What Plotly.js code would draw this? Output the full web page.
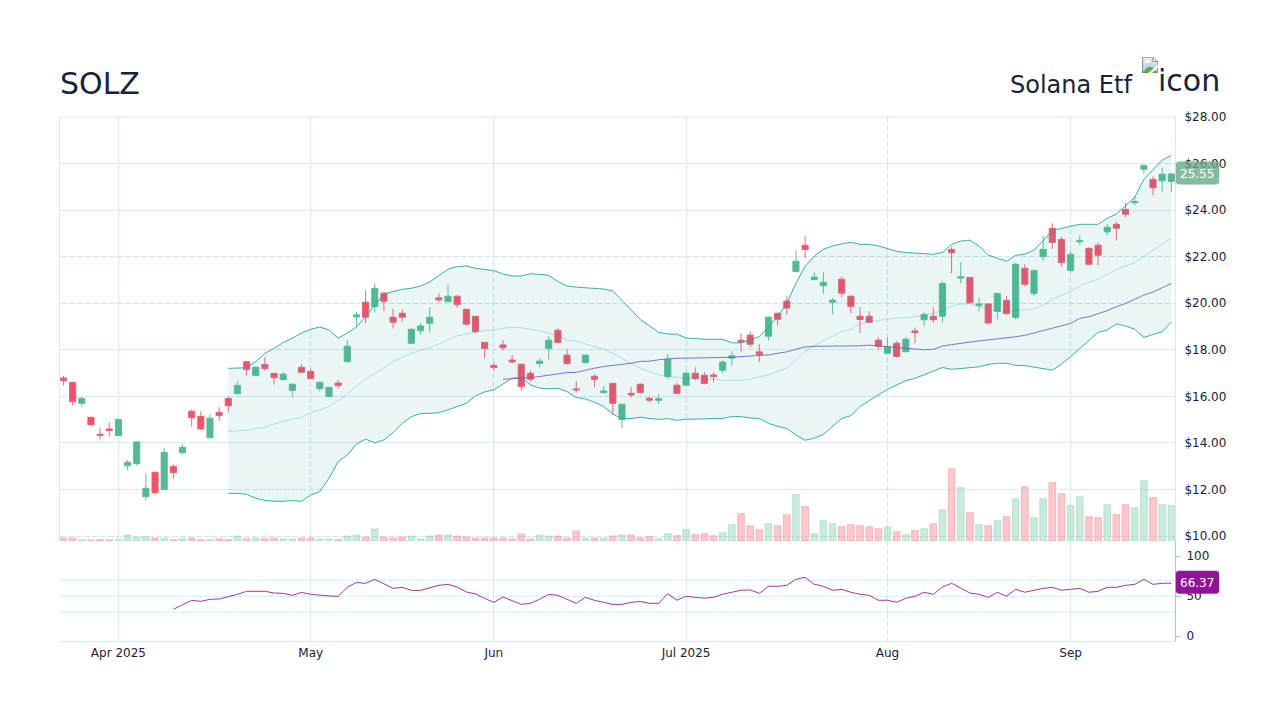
<!DOCTYPE html>
<html>
<head>
<meta charset="utf-8">
<title>SOLZ</title>
<script src="https://cdn.plot.ly/plotly-3.0.1.min.js"></script>
<style>
html,body{margin:0;padding:0;background:#fff;overflow:hidden}
#chart{position:absolute;left:0;top:0;width:1280px;height:720px}
#logo{position:absolute;left:1142px;top:57px;font:30px "DejaVu Sans",sans-serif;color:#1b2238;line-height:48px}
</style>
</head>
<body>
<div id="chart"></div>
<img id="logo" src="solana-etf-icon.png" alt="icon">
<script>
const dates = [
"2025-03-24","2025-03-25","2025-03-26","2025-03-27","2025-03-28","2025-03-31",
"2025-04-01","2025-04-02","2025-04-03","2025-04-04","2025-04-07","2025-04-08","2025-04-09","2025-04-10","2025-04-11",
"2025-04-14","2025-04-15","2025-04-16","2025-04-17","2025-04-21","2025-04-22","2025-04-23","2025-04-24","2025-04-25",
"2025-04-28","2025-04-29","2025-04-30","2025-05-01","2025-05-02",
"2025-05-05","2025-05-06","2025-05-07","2025-05-08","2025-05-09","2025-05-12","2025-05-13","2025-05-14","2025-05-15","2025-05-16",
"2025-05-19","2025-05-20","2025-05-21","2025-05-22","2025-05-23","2025-05-27","2025-05-28","2025-05-29","2025-05-30",
"2025-06-02","2025-06-03","2025-06-04","2025-06-05","2025-06-06","2025-06-09","2025-06-10","2025-06-11","2025-06-12","2025-06-13",
"2025-06-16","2025-06-17","2025-06-18","2025-06-20","2025-06-23","2025-06-24","2025-06-25","2025-06-26","2025-06-27","2025-06-30",
"2025-07-01","2025-07-02","2025-07-03","2025-07-07","2025-07-08","2025-07-09","2025-07-10","2025-07-11",
"2025-07-14","2025-07-15","2025-07-16","2025-07-17","2025-07-18","2025-07-21","2025-07-22","2025-07-23","2025-07-24","2025-07-25",
"2025-07-28","2025-07-29","2025-07-30","2025-07-31","2025-08-01",
"2025-08-04","2025-08-05","2025-08-06","2025-08-07","2025-08-08","2025-08-11","2025-08-12","2025-08-13","2025-08-14","2025-08-15",
"2025-08-18","2025-08-19","2025-08-20","2025-08-21","2025-08-22","2025-08-25","2025-08-26","2025-08-27","2025-08-28","2025-08-29",
"2025-09-02","2025-09-03","2025-09-04","2025-09-05","2025-09-08","2025-09-09","2025-09-10","2025-09-11","2025-09-12","2025-09-15","2025-09-16"];

const opens = [
16.79,16.60,15.70,15.10,14.37,14.60,14.31,13.02,13.11,11.69,
12.74,11.99,12.99,13.58,15.36,15.14,14.22,15.31,15.91,16.11,
17.49,16.89,17.37,16.99,16.72,16.26,17.25,17.07,16.33,15.99,
16.57,17.49,19.41,20.04,19.86,20.43,19.40,19.57,18.28,18.82,
19.14,20.23,20.07,20.30,19.74,19.44,18.32,17.33,18.21,17.56,
17.38,16.99,17.41,18.05,18.84,17.77,16.32,17.45,16.86,16.16,
16.56,15.00,16.13,16.52,15.92,15.83,16.85,16.48,16.48,16.99,
16.91,16.92,17.12,17.64,18.41,18.63,17.91,18.58,19.57,20.09,
21.36,22.49,21.02,20.76,20.04,21.03,20.30,19.44,19.44,18.41,
17.85,18.28,17.92,18.81,19.29,19.44,19.44,22.31,21.08,21.11,
19.90,19.97,19.65,20.12,19.39,21.50,20.42,22.00,23.22,22.74,
21.41,22.64,22.36,22.49,23.07,23.39,24.03,24.32,25.75,25.32,
25.26,25.23];
const closes = [
16.67,15.77,15.91,14.78,14.33,14.53,15.01,13.17,14.04,12.05,
11.86,13.59,12.72,13.81,15.08,14.60,15.06,15.17,15.60,16.47,
17.15,17.25,17.19,16.80,16.95,16.52,17.03,16.76,16.60,16.39,
16.46,18.15,19.50,19.40,20.64,20.08,19.18,19.40,18.88,19.02,
19.40,20.14,20.30,19.94,19.10,18.78,18.05,17.24,18.09,17.48,
16.42,16.73,17.51,18.41,18.31,17.41,16.28,17.77,16.73,16.23,
15.70,15.66,16.06,16.16,15.83,15.90,17.59,16.13,16.99,16.76,
16.55,16.85,17.47,17.74,18.33,18.24,17.80,19.40,19.31,19.79,
21.80,22.31,21.12,20.90,20.13,20.43,19.86,19.30,19.18,18.15,
18.12,17.71,18.45,18.74,19.52,19.29,20.85,22.17,21.14,20.02,
19.97,19.15,20.42,19.55,21.67,20.81,21.41,22.31,22.61,21.74,
22.10,22.68,21.67,22.06,23.26,23.22,23.82,24.36,25.92,24.96,
25.54,25.55];
const highs = [
16.87,16.60,16.00,15.10,14.63,14.88,15.03,13.25,14.08,12.69,
12.74,13.77,13.08,13.94,15.44,15.36,15.21,15.53,16.00,16.64,
17.52,17.27,17.68,16.99,17.03,16.52,17.37,17.19,16.64,16.39,
16.70,18.42,19.64,20.54,20.86,20.50,19.77,19.74,18.92,19.14,
19.83,20.43,20.81,20.36,19.74,19.44,18.32,17.46,18.41,17.77,
17.38,17.12,17.64,18.58,18.92,18.02,16.65,17.81,16.95,16.46,
16.56,15.66,16.40,16.55,15.99,16.10,17.81,16.59,17.07,17.25,
17.04,17.04,17.57,17.95,18.71,18.78,18.24,19.43,19.57,20.30,
22.28,22.88,21.33,21.33,20.22,21.15,20.34,19.83,19.66,18.54,
18.53,18.37,18.54,18.95,19.61,19.82,20.94,22.43,21.76,21.11,
20.25,19.97,20.45,20.31,21.74,21.67,21.41,22.90,23.43,22.86,
22.24,22.91,22.39,22.61,23.39,23.52,24.29,24.60,25.95,25.45,
25.82,25.61];
const lows = [
16.47,15.60,15.56,14.74,14.15,14.27,14.31,12.82,13.02,11.52,
11.78,11.99,12.46,13.52,14.70,14.55,14.22,14.95,15.30,16.11,
16.89,16.87,17.10,16.50,16.67,15.96,17.03,16.76,16.22,15.99,
16.33,17.45,19.00,19.14,19.61,19.65,18.92,19.21,18.24,18.65,
18.74,20.03,20.07,19.81,19.04,18.71,17.64,17.09,17.97,17.41,
16.25,16.63,17.25,17.59,18.27,17.36,16.16,17.41,16.39,16.13,
15.20,14.63,15.95,16.12,15.75,15.67,16.74,16.10,16.45,16.68,
16.51,16.61,16.99,17.34,17.92,18.11,17.47,18.41,19.06,19.49,
21.32,21.93,20.97,20.40,19.53,20.26,19.57,18.71,19.14,18.00,
17.82,17.68,17.88,18.28,19.02,19.16,19.18,21.28,20.85,19.99,
19.65,19.08,19.31,19.52,19.31,20.71,20.31,21.83,22.34,21.57,
21.31,22.49,21.63,21.63,22.90,22.69,23.69,24.20,25.54,24.63,
24.80,24.80];
const volumes = [
3,3,1.3,1,1.3,1.3,1.3,6,4,4.3,
3,3,1.3,2.3,3,1.3,1.3,2.3,1.3,5,
2.3,3,2.3,3,2,2,3,3,2,2,
1.3,5,6,4,12,4,3,4,5,2,
5,6,6,5,4,3,3,3,3,2,
7,2,6,5,5,3,10,3,3,3,
5,6,6,3.3,4.3,2.3,7.3,5.3,11.3,6.3,
7.3,5.3,8.3,16.3,27.3,15.3,11.3,17.3,15.3,26.3,
46.3,34.3,7.3,20.3,17.3,14.3,16.3,15.3,14.3,12.3,
14.3,9.3,6.3,10.3,12.3,17.3,31.3,72.3,53.3,28.3,
16.3,15.3,20.3,24.3,42.3,54.3,23.3,42.3,58.3,47.3,
35.3,44.3,24.3,23.3,36.3,26.3,36.3,33.3,60.3,43.3,
36.3,35.3];
const bandUpper = [
17.2,17.2,17.23,17.49,17.85,18.06,18.31,18.5,18.72,18.88,
18.98,18.85,18.5,18.72,18.98,19.43,19.93,20.4,20.5,20.6,
20.64,20.74,20.91,21.2,21.46,21.57,21.6,21.5,21.46,21.4,
21.26,21.17,21.17,21.27,21.24,21.2,20.93,20.74,20.69,20.66,
20.64,20.61,20.53,20.14,19.71,19.3,19.03,18.75,18.68,18.67,
18.51,18.47,18.45,18.45,18.45,18.3,18.3,18.42,18.57,18.97,
19.43,20.0,20.86,21.58,22.03,22.32,22.46,22.55,22.62,22.53,
22.53,22.46,22.33,22.23,22.18,22.15,22.14,22.1,22.18,22.53,
22.67,22.71,22.46,22.07,21.93,21.8,22.06,22.11,22.28,22.71,
23.12,23.22,23.3,23.39,23.39,23.39,23.65,23.83,24.2,24.55,
25.32,25.72,26.15,26.35];
const bandMiddle = [
14.5,14.52,14.54,14.63,14.67,14.81,14.93,15.01,15.1,15.3,
15.41,15.56,15.81,16.1,16.45,16.73,16.99,17.25,17.49,17.68,
17.85,17.99,18.08,18.25,18.42,18.6,18.68,18.77,18.82,18.85,
18.92,18.97,18.95,18.88,18.82,18.72,18.6,18.42,18.37,18.25,
18.14,18.02,17.85,17.62,17.42,17.21,17.07,16.92,16.85,16.81,
16.78,16.76,16.75,16.74,16.69,16.68,16.68,16.74,16.84,16.92,
17.07,17.21,17.57,17.92,18.17,18.4,18.57,18.78,18.87,19.11,
19.21,19.26,19.33,19.36,19.38,19.43,19.46,19.56,19.68,19.88,
19.97,19.97,19.88,19.71,19.68,19.66,19.68,19.71,19.78,19.92,
20.17,20.35,20.5,20.74,20.88,21.04,21.24,21.45,21.6,21.74,
22.0,22.26,22.53,22.79];
const bandLower = [
11.83,11.83,11.79,11.62,11.53,11.49,11.49,11.52,11.49,11.76,
11.91,12.48,13.19,13.48,13.95,14.16,14.0,14.13,14.44,14.84,
15.13,15.26,15.27,15.3,15.42,15.56,15.7,16.02,16.19,16.28,
16.53,16.78,16.81,16.49,16.35,16.32,16.35,16.2,15.95,15.89,
15.75,15.56,15.24,15.03,15.05,15.1,15.05,15.01,15.04,14.97,
15.01,15.01,15.03,15.05,15.05,15.13,15.13,15.07,15.05,14.84,
14.71,14.62,14.34,14.11,14.2,14.37,14.7,15.05,15.17,15.56,
15.81,16.06,16.3,16.49,16.67,16.77,16.92,17.06,17.24,17.16,
17.2,17.24,17.27,17.37,17.42,17.42,17.33,17.32,17.27,17.19,
17.12,17.39,17.7,18.06,18.42,18.75,18.85,19.11,19.02,18.88,
18.53,18.65,18.78,19.2];
const movingAverage = [
16.73,16.75,16.78,16.81,16.85,16.91,16.96,17.02,17.03,17.13,
17.21,17.28,17.32,17.35,17.42,17.5,17.51,17.57,17.62,17.64,
17.64,17.64,17.64,17.65,17.67,17.68,17.71,17.72,17.74,17.78,
17.85,17.91,18.02,18.12,18.15,18.15,18.15,18.15,18.15,18.17,
18.2,18.17,18.14,18.1,18.08,18.02,18.0,18.02,18.16,18.22,
18.26,18.33,18.38,18.42,18.48,18.49,18.56,18.62,18.73,18.82,
18.95,19.03,19.13,19.35,19.42,19.54,19.68,19.85,19.99,20.17,
20.35,20.48,20.67,20.85];
const rsi = [
33.7,39.1,44.9,43.7,46.2,46.6,49.1,52.4,56.2,56.2,
56.2,54.1,53.7,51.2,54.9,52.4,51.2,50.4,49.9,61.2,
67.2,66.2,71.2,65.8,59.9,61.2,57.4,57.4,60.4,63.7,
64.9,61.6,55.4,52.9,47.4,42.4,49.1,44.9,39.9,41.2,
46.2,52.4,51.2,46.2,41.2,48.7,44.9,42.4,39.9,39.9,
42.4,43.5,41.2,41.2,53.3,45,50,48.7,47.5,48.7,
52.5,55,57.5,57.9,53.7,62.5,62.5,63.7,71.2,73.7,
65,62.5,57.5,58.7,55,52.5,51.2,45,45,42.5,
47.5,50,55,52.4,61.6,66.2,59.9,54.1,52.4,48.7,
55,50,58.7,55,57.5,59.9,61.2,57.5,58.7,59.9,
55,56.2,61.2,61.2,63.7,64.9,71.2,64.9,66.2,66.37];

const priceTicks = [10,12,14,16,18,20,22,24,26,28];
const priceLabels = ["$10.00","$12.00","$14.00","$16.00","$18.00","$20.00","$22.00","$24.00","$26.00","$28.00"];
const rsiTicks = [0,50,100];
const rsiLevels = [30,50,70];
const dateTicks = ["2025-04-01","2025-05-01","2025-05-30","2025-07-01","2025-08-01","2025-08-29"];
const dateLabels = ["Apr 2025","May","Jun","Jul 2025","Aug","Sep"];
const symbol = "SOLZ";
const fundName = "Solana Etf";

const INK = "#1b2238", GRID = "rgba(190,222,230,0.72)", EDGE = "rgba(190,222,232,0.6)";
const UP = "rgba(70,178,137,0.92)", DOWN = "rgba(240,66,92,0.92)";
const DASH = "6px,2px";
const tail = a => dates.slice(dates.length - a.length);
const lastClose = closes[closes.length - 1], lastRsi = rsi[rsi.length - 1];
const TAG = "M4,-10.3 L41,-10.3 Q44,-10.3 44,-7.3 L44,9.3 Q44,12.3 41,12.3 L4,12.3 Q1,12.3 1,9.3 L1,-7.3 Q1,-10.3 4,-10.3 Z";

const traces = [
  {type:"candlestick", x:dates, open:opens, high:highs, low:lows, close:closes, xaxis:"x", yaxis:"y",
   whiskerwidth:0,
   increasing:{line:{color:"rgba(90,188,150,0.95)",width:1}, fillcolor:UP},
   decreasing:{line:{color:"rgba(238,94,116,0.95)",width:1}, fillcolor:DOWN}, hoverinfo:"skip", showlegend:false},
  {type:"bar", x:dates, y:volumes, xaxis:"x", yaxis:"y3", hoverinfo:"skip", showlegend:false,
   marker:{color:closes.map((c,i)=> c>=opens[i] ? "rgba(150,215,185,0.5)" : "rgba(248,160,170,0.58)"),
           line:{width:1, color:closes.map((c,i)=> c>=opens[i] ? "rgba(130,210,175,0.45)" : "rgba(245,145,160,0.55)")}}},
  {type:"scatter", mode:"lines", x:tail(bandUpper), y:bandUpper, xaxis:"x", yaxis:"y", hoverinfo:"skip", showlegend:false,
   line:{color:"rgba(38,166,154,0.9)",width:1}},
  {type:"scatter", mode:"lines", x:tail(bandLower), y:bandLower, xaxis:"x", yaxis:"y", hoverinfo:"skip", showlegend:false,
   line:{color:"rgba(38,166,154,0.9)",width:1},
   fill:"tonexty", fillcolor:"rgba(38,166,154,0.1)"},
  {type:"scatter", mode:"lines", x:tail(bandMiddle), y:bandMiddle, xaxis:"x", yaxis:"y", hoverinfo:"skip", showlegend:false,
   line:{color:"rgba(38,166,154,0.3)",width:1}},
  {type:"scatter", mode:"lines", x:tail(movingAverage), y:movingAverage, xaxis:"x", yaxis:"y", hoverinfo:"skip", showlegend:false,
   line:{color:"rgba(110,90,190,0.85)",width:1}},
  {type:"scatter", mode:"lines", x:tail(rsi), y:rsi, xaxis:"x", yaxis:"y2", hoverinfo:"skip", showlegend:false,
   line:{color:"rgba(142,20,150,0.85)",width:1}}
];

const axisFont = {family:"DejaVu Sans", size:12, color:INK};
const layout = {
  width:1280, height:720, autosize:false, showlegend:false, dragmode:false,
  paper_bgcolor:"#fff", plot_bgcolor:"#fff",
  margin:{l:60, r:105, t:117, b:79, pad:0},
  boxgap:0.33, boxgroupgap:0, bargap:0.27,
  font:{family:"DejaVu Sans", color:INK},
  title:{text:symbol, x:60/1280, xref:"container", xanchor:"left", y:(720-83)/720, yref:"container", yanchor:"middle",
         font:{family:"DejaVu Sans", size:30, color:INK}, automargin:false},
  xaxis:{type:"category", categoryorder:"array", categoryarray:dates, range:[-0.38,121.4], anchor:"y2", domain:[0,1],
         tickmode:"array", tickvals:dateTicks, ticktext:dateLabels, tickfont:axisFont, ticks:"", ticklen:0, ticklabelstandoff:1,
         showgrid:true, gridcolor:GRID, griddash:DASH, gridwidth:1, zeroline:false,
         showline:true, linecolor:EDGE, linewidth:1, rangeslider:{visible:false}, fixedrange:true},
  yaxis:{domain:[100/524,1], side:"right", range:[9.785,28], tickmode:"array", tickvals:priceTicks, ticktext:priceLabels,
         tickfont:axisFont, ticks:"", ticklabelstandoff:6, anchor:"x",
         showgrid:true, gridcolor:GRID, griddash:DASH, gridwidth:1, zeroline:false,
         showline:true, mirror:true, linecolor:EDGE, linewidth:1, fixedrange:true},
  yaxis2:{domain:[0,100/524], side:"right", range:[-5.9,119.1], tickmode:"array", tickvals:rsiTicks,
          tickfont:axisFont, ticks:"outside", ticklen:5, tickwidth:1, tickcolor:"rgba(150,195,208,0.9)", ticklabelstandoff:3, anchor:"x",
          showgrid:false, zeroline:false, showline:true, linecolor:"rgba(150,195,208,0.9)", linewidth:1, fixedrange:true},
  yaxis3:{domain:[100/524,1], overlaying:"y", side:"left", range:[0,424], visible:false, fixedrange:true},
  shapes: rsiLevels.map(v=>({type:"line", xref:"paper", x0:0, x1:1, yref:"y2", y0:v, y1:v, layer:"below",
                             line:{color:"rgba(170,228,245,0.8)", width:1, dash:DASH}})).concat([
    {type:"line", xref:"paper", x0:0, x1:1, yref:"paper", y0:1, y1:1, layer:"below", line:{color:EDGE, width:1}},
    {type:"path", xref:"paper", yref:"y", xsizemode:"pixel", ysizemode:"pixel", xanchor:1, yanchor:lastClose, path:TAG,
     fillcolor:"rgba(105,170,135,0.8)", line:{color:"rgba(105,170,135,0.35)", width:1}, layer:"above"},
    {type:"path", xref:"paper", yref:"y2", xsizemode:"pixel", ysizemode:"pixel", xanchor:1, yanchor:lastRsi, path:TAG,
     fillcolor:"#8f1396", line:{color:"rgba(143,19,150,0.4)", width:1}, layer:"above"}
  ]),
  annotations:[
    {xref:"paper", yref:"paper", x:(1134-60)/1115, y:(641-85)/524, xanchor:"right", yanchor:"middle", showarrow:false,
     text:fundName, font:{family:"DejaVu Sans", size:24, color:INK}},
    {xref:"paper", yref:"y", x:(1196.5-60)/1115, y:lastClose, yshift:0, xanchor:"center", yanchor:"middle", showarrow:false,
     text:lastClose.toFixed(2), font:{family:"DejaVu Sans", size:12, color:"#fff"}},
    {xref:"paper", yref:"y2", x:(1196.5-60)/1115, y:lastRsi, yshift:0.5, xanchor:"center", yanchor:"middle", showarrow:false,
     text:lastRsi.toFixed(2), font:{family:"DejaVu Sans", size:12, color:"#fff"}}
  ]
};
Plotly.newPlot("chart", traces, layout, {staticPlot:true, displayModeBar:false});
</script>
</body>
</html>
